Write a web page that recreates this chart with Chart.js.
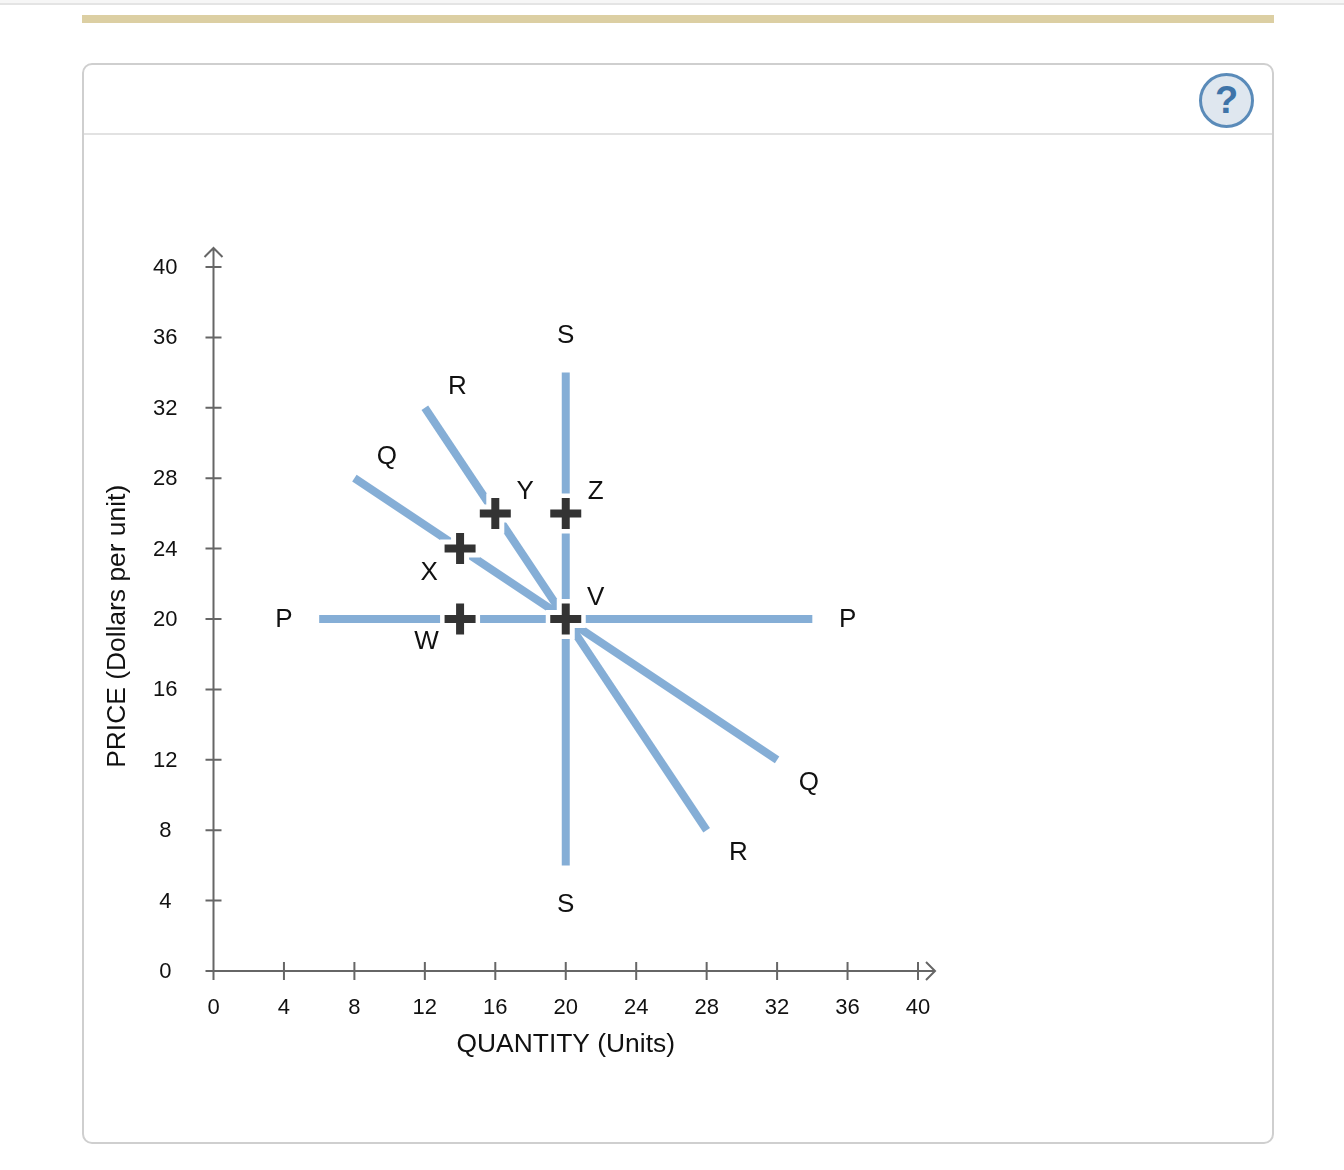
<!DOCTYPE html>
<html>
<head>
<meta charset="utf-8">
<title>Price and quantity</title>
<script src="https://cdn.jsdelivr.net/npm/chart.js@4"></script>
<style>
  html, body { margin: 0; padding: 0; background: #fff; }
  body { position: relative; width: 1344px; height: 1170px; overflow: hidden; font-family: "Liberation Sans", Arial, sans-serif; }
  .topline { position: absolute; left: 0; top: 0; width: 1344px; height: 3px; background: #f6f6f6; border-bottom: 2px solid #e4e4e4; }
  .bar { position: absolute; left: 82px; top: 15px; width: 1192px; height: 8px; background: #dccfa3; }
  .card { position: absolute; left: 82px; top: 63px; width: 1188px; height: 1077px; border: 2px solid #cfcfcf; border-radius: 10px; }
  .head { position: absolute; left: 84px; top: 133px; width: 1188px; height: 2px; background: #e2e2e2; }
  .help { position: absolute; left: 1199px; top: 73px; width: 49px; height: 49px; border: 3px solid #5a8bb9; border-radius: 50%;
          background: #dfe7ef; color: #3f74a8; font: bold 38px/49px "Liberation Sans", Arial, sans-serif; text-align: center; }
  canvas { position: absolute; left: 0; top: 0; }
</style>
</head>
<body>
<div class="topline"></div>
<div class="bar"></div>
<div class="card"></div>
<div class="head"></div>
<div class="help">?</div>
<canvas id="chart" width="1344" height="1170"></canvas>
<script>
// axis ticks
const tickValues = [0, 4, 8, 12, 16, 20, 24, 28, 32, 36, 40];

// the four curves, as end points
const pX = [6, 34];
const pY = [20, 20];
const sX = [20, 20];
const sY = [34, 6];
const rX = [12, 28];
const rY = [32, 8];
const qX = [8, 32];
const qY = [28, 12];

// the marked points
const markX = [20, 14, 14, 16, 20];
const markY = [20, 20, 24, 26, 26];

// letters, placed in data units
const letterText = ['P', 'P', 'S', 'S', 'R', 'R', 'Q', 'Q', 'V', 'W', 'X', 'Y', 'Z'];
const letterX = [4, 36, 20, 20, 13.85, 29.8, 9.85, 33.8, 21.7, 12.1, 12.25, 17.7, 21.7];
const letterY = [19.95, 19.95, 36.07, 3.77, 33.2, 6.7, 29.2, 10.7, 21.2, 18.7, 22.65, 27.2, 27.2];

const LINE_BLUE = '#85aed6';
const AXIS_GREY = '#666666';
const TEXT_COLOR = '#111111';
const FONT = '"Liberation Sans", Arial, sans-serif';

function pairs(xs, ys) {
    return xs.map((x, i) => ({ x: x, y: ys[i] }));
}

function curve(label, xs, ys) {
    return {
        label: label,
        data: pairs(xs, ys),
        showLine: true,
        borderColor: LINE_BLUE,
        borderWidth: 8,
        pointRadius: 0,
        order: 3
    };
}

// Axes with arrow heads and ticks that cross the line
const axesPlugin = {
    id: 'axes',
    beforeDatasetsDraw(chart) {
        const ctx = chart.ctx;
        const xs = chart.scales.x;
        const ys = chart.scales.y;
        const x0 = xs.getPixelForValue(0);
        const y0 = ys.getPixelForValue(0);
        const xEnd = xs.getPixelForValue(40) + 17;
        const yEnd = ys.getPixelForValue(40) - 19;

        ctx.save();
        ctx.strokeStyle = AXIS_GREY;
        ctx.lineWidth = 2;
        ctx.beginPath();
        ctx.moveTo(x0 - 8, y0);
        ctx.lineTo(xEnd, y0);
        ctx.moveTo(x0, y0 + 9);
        ctx.lineTo(x0, yEnd);
        tickValues.forEach(v => {
            if (v === 0) return;
            const px = xs.getPixelForValue(v);
            const py = ys.getPixelForValue(v);
            ctx.moveTo(px, y0 - 9);
            ctx.lineTo(px, y0 + 9);
            ctx.moveTo(x0 - 8, py);
            ctx.lineTo(x0 + 8, py);
        });
        // arrow heads
        ctx.moveTo(xEnd - 9, y0 - 9);
        ctx.lineTo(xEnd, y0);
        ctx.lineTo(xEnd - 9, y0 + 9);
        ctx.moveTo(x0 - 9, yEnd + 9);
        ctx.lineTo(x0, yEnd);
        ctx.lineTo(x0 + 9, yEnd + 9);
        ctx.stroke();
        ctx.restore();
    }
};

// Curve and point letters
const lettersPlugin = {
    id: 'letters',
    afterDatasetsDraw(chart) {
        const ctx = chart.ctx;
        ctx.save();
        ctx.fillStyle = TEXT_COLOR;
        ctx.font = '26px ' + FONT;
        ctx.textAlign = 'center';
        ctx.textBaseline = 'middle';
        letterText.forEach((t, i) => {
            ctx.fillText(t, chart.scales.x.getPixelForValue(letterX[i]), chart.scales.y.getPixelForValue(letterY[i]));
        });
        ctx.restore();
    }
};

new Chart(document.getElementById('chart'), {
    type: 'scatter',
    data: {
        datasets: [
            curve('P', pX, pY),
            curve('S', sX, sY),
            curve('R', rX, rY),
            curve('Q', qX, qY),
            // white halo that cuts the curves around each marker
            {
                label: 'halo',
                data: pairs(markX, markY),
                pointStyle: 'cross',
                pointRadius: 20,
                pointBorderWidth: 18,
                pointBorderColor: '#ffffff',
                order: 2
            },
            {
                label: 'points',
                data: pairs(markX, markY),
                pointStyle: 'cross',
                pointRadius: 15.5,
                pointBorderWidth: 8,
                pointBorderColor: '#333333',
                order: 1
            }
        ]
    },
    options: {
        responsive: false,
        animation: false,
        layout: { padding: { left: 102, right: 426, top: 267, bottom: 109 } },
        plugins: { legend: { display: false }, tooltip: { enabled: false } },
        scales: {
            x: {
                type: 'linear',
                min: 0,
                max: 40,
                afterFit(scale) { scale.height = 90; },
                afterBuildTicks(scale) { scale.ticks = tickValues.map(v => ({ value: v })); },
                grid: { display: false, drawTicks: false },
                border: { display: false },
                ticks: { color: TEXT_COLOR, font: { family: FONT, size: 22 }, padding: 24, maxRotation: 0, autoSkip: false },
                title: { display: true, text: 'QUANTITY (Units)', color: TEXT_COLOR, font: { family: FONT, size: 26.4 }, padding: 0 }
            },
            y: {
                type: 'linear',
                min: 0,
                max: 40,
                afterFit(scale) { scale.width = 111.5; },
                afterBuildTicks(scale) { scale.ticks = tickValues.map(v => ({ value: v })); },
                grid: { display: false, drawTicks: false },
                border: { display: false },
                ticks: { color: TEXT_COLOR, font: { family: FONT, size: 22 }, padding: 36, labelOffset: 1, crossAlign: 'center', autoSkip: false },
                // the two trailing spaces push the title a little below the axis centre
                title: { display: true, text: 'PRICE (Dollars per unit)  ', color: TEXT_COLOR, font: { family: FONT, size: 26.4 }, padding: { top: 0, bottom: 0 } }
            }
        }
    },
    plugins: [axesPlugin, lettersPlugin]
});
</script>
</body>
</html>
